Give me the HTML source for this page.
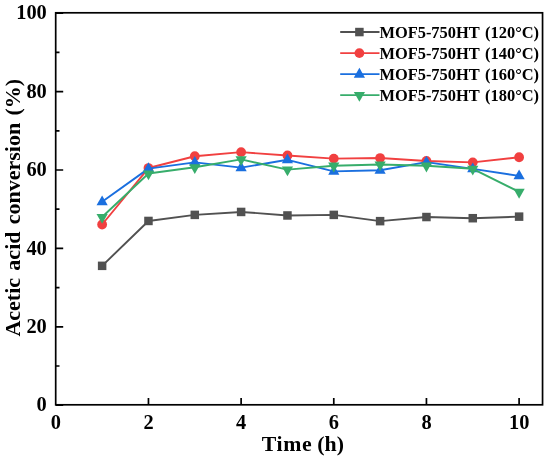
<!DOCTYPE html>
<html><head><meta charset="utf-8"><title>Acetic acid conversion</title>
<style>html,body{margin:0;padding:0;background:#fff}svg{display:block}text{font-family:"Liberation Serif","Times New Roman",serif;font-weight:bold;fill:#000}</style></head><body>
<svg width="550" height="461" viewBox="0 0 550 461">
<rect width="550" height="461" fill="#fff"/>
<polyline points="102.13,265.84 148.46,220.95 194.79,214.88 241.12,211.94 287.45,215.46 333.78,214.88 380.11,221.15 426.44,217.03 472.77,218.21 519.10,216.64" fill="none" stroke="#515151" stroke-width="1.9" stroke-linejoin="round"/>
<rect x="97.88" y="261.59" width="8.5" height="8.5" fill="#515151"/>
<rect x="144.21" y="216.70" width="8.5" height="8.5" fill="#515151"/>
<rect x="190.54" y="210.63" width="8.5" height="8.5" fill="#515151"/>
<rect x="236.87" y="207.69" width="8.5" height="8.5" fill="#515151"/>
<rect x="283.20" y="211.21" width="8.5" height="8.5" fill="#515151"/>
<rect x="329.53" y="210.63" width="8.5" height="8.5" fill="#515151"/>
<rect x="375.86" y="216.90" width="8.5" height="8.5" fill="#515151"/>
<rect x="422.19" y="212.78" width="8.5" height="8.5" fill="#515151"/>
<rect x="468.52" y="213.96" width="8.5" height="8.5" fill="#515151"/>
<rect x="514.85" y="212.39" width="8.5" height="8.5" fill="#515151"/>
<polyline points="102.13,224.48 148.46,168.03 194.79,156.27 241.12,152.16 287.45,155.49 333.78,158.62 380.11,158.04 426.44,160.98 472.77,162.35 519.10,157.25" fill="none" stroke="#F14040" stroke-width="1.9" stroke-linejoin="round"/>
<circle cx="102.13" cy="224.48" r="4.9" fill="#F14040"/>
<circle cx="148.46" cy="168.03" r="4.9" fill="#F14040"/>
<circle cx="194.79" cy="156.27" r="4.9" fill="#F14040"/>
<circle cx="241.12" cy="152.16" r="4.9" fill="#F14040"/>
<circle cx="287.45" cy="155.49" r="4.9" fill="#F14040"/>
<circle cx="333.78" cy="158.62" r="4.9" fill="#F14040"/>
<circle cx="380.11" cy="158.04" r="4.9" fill="#F14040"/>
<circle cx="426.44" cy="160.98" r="4.9" fill="#F14040"/>
<circle cx="472.77" cy="162.35" r="4.9" fill="#F14040"/>
<circle cx="519.10" cy="157.25" r="4.9" fill="#F14040"/>
<polyline points="102.13,201.74 148.46,168.62 194.79,162.35 241.12,167.64 287.45,159.80 333.78,171.36 380.11,170.19 426.44,162.15 472.77,168.82 519.10,175.87" fill="none" stroke="#1A6FDF" stroke-width="1.9" stroke-linejoin="round"/>
<polygon points="96.53,205.24 107.73,205.24 102.13,195.44" fill="#1A6FDF"/>
<polygon points="142.86,172.12 154.06,172.12 148.46,162.32" fill="#1A6FDF"/>
<polygon points="189.19,165.85 200.39,165.85 194.79,156.05" fill="#1A6FDF"/>
<polygon points="235.52,171.14 246.72,171.14 241.12,161.34" fill="#1A6FDF"/>
<polygon points="281.85,163.30 293.05,163.30 287.45,153.50" fill="#1A6FDF"/>
<polygon points="328.18,174.86 339.38,174.86 333.78,165.06" fill="#1A6FDF"/>
<polygon points="374.51,173.69 385.71,173.69 380.11,163.89" fill="#1A6FDF"/>
<polygon points="420.84,165.65 432.04,165.65 426.44,155.85" fill="#1A6FDF"/>
<polygon points="467.17,172.32 478.37,172.32 472.77,162.52" fill="#1A6FDF"/>
<polygon points="513.50,179.37 524.70,179.37 519.10,169.57" fill="#1A6FDF"/>
<polyline points="102.13,217.03 148.46,173.52 194.79,167.25 241.12,159.41 287.45,169.60 333.78,165.68 380.11,164.50 426.44,165.68 472.77,168.82 519.10,191.94" fill="none" stroke="#37AD6B" stroke-width="1.9" stroke-linejoin="round"/>
<polygon points="96.53,213.93 107.73,213.93 102.13,223.73" fill="#37AD6B"/>
<polygon points="142.86,170.42 154.06,170.42 148.46,180.22" fill="#37AD6B"/>
<polygon points="189.19,164.15 200.39,164.15 194.79,173.95" fill="#37AD6B"/>
<polygon points="235.52,156.31 246.72,156.31 241.12,166.11" fill="#37AD6B"/>
<polygon points="281.85,166.50 293.05,166.50 287.45,176.30" fill="#37AD6B"/>
<polygon points="328.18,162.58 339.38,162.58 333.78,172.38" fill="#37AD6B"/>
<polygon points="374.51,161.40 385.71,161.40 380.11,171.20" fill="#37AD6B"/>
<polygon points="420.84,162.58 432.04,162.58 426.44,172.38" fill="#37AD6B"/>
<polygon points="467.17,165.72 478.37,165.72 472.77,175.52" fill="#37AD6B"/>
<polygon points="513.50,188.84 524.70,188.84 519.10,198.64" fill="#37AD6B"/>
<rect x="55.7" y="12.8" width="486.84999999999997" height="392.0" fill="none" stroke="#000" stroke-width="1.7"/>
<path d="M55.7,405.20h7.5 M55.7,366.00h3.8 M55.7,326.80h7.5 M55.7,287.60h3.8 M55.7,248.40h7.5 M55.7,209.20h3.8 M55.7,170.00h7.5 M55.7,130.80h3.8 M55.7,91.60h7.5 M55.7,52.40h3.8 M55.7,13.20h7.5 M148.46,404.8v-6.8 M241.12,404.8v-6.8 M333.78,404.8v-6.8 M426.44,404.8v-6.8 M519.10,404.8v-6.8" stroke="#000" stroke-width="1.7" fill="none"/>
<text x="46.8" y="411.45" font-size="20.4" text-anchor="end">0</text>
<text x="46.8" y="333.05" font-size="20.4" text-anchor="end">20</text>
<text x="46.8" y="254.65" font-size="20.4" text-anchor="end">40</text>
<text x="46.8" y="176.25" font-size="20.4" text-anchor="end">60</text>
<text x="46.8" y="97.85" font-size="20.4" text-anchor="end">80</text>
<text x="46.8" y="19.45" font-size="20.4" text-anchor="end">100</text>
<text x="55.90" y="429.35" font-size="20.4" text-anchor="middle">0</text>
<text x="148.56" y="429.35" font-size="20.4" text-anchor="middle">2</text>
<text x="241.22" y="429.35" font-size="20.4" text-anchor="middle">4</text>
<text x="333.88" y="429.35" font-size="20.4" text-anchor="middle">6</text>
<text x="426.54" y="429.35" font-size="20.4" text-anchor="middle">8</text>
<text x="519.20" y="429.35" font-size="20.4" text-anchor="middle">10</text>
<text x="261.8" y="450.8" font-size="21.8"><tspan letter-spacing="0.63">Time</tspan><tspan x="311.8"> (h)</tspan></text>
<text transform="translate(20.3,207.7) rotate(-90)" font-size="22" word-spacing="1.8" text-anchor="middle">Acetic acid conversion (%)</text>
<line x1="340.2" y1="32.05" x2="379.5" y2="32.05" stroke="#515151" stroke-width="1.9"/>
<rect x="355.15" y="27.80" width="8.5" height="8.5" fill="#515151"/>
<text transform="translate(379.4,37.75) scale(1.027,1)" font-size="16" word-spacing="1.5">MOF5-750HT (120°C)</text>
<line x1="340.2" y1="53.1" x2="379.5" y2="53.1" stroke="#F14040" stroke-width="1.9"/>
<circle cx="359.40" cy="53.10" r="4.9" fill="#F14040"/>
<text transform="translate(379.4,58.80) scale(1.027,1)" font-size="16" word-spacing="1.5">MOF5-750HT (140°C)</text>
<line x1="340.2" y1="74.15" x2="379.5" y2="74.15" stroke="#1A6FDF" stroke-width="1.9"/>
<polygon points="353.80,77.65 365.00,77.65 359.40,67.85" fill="#1A6FDF"/>
<text transform="translate(379.4,79.85) scale(1.027,1)" font-size="16" word-spacing="1.5">MOF5-750HT (160°C)</text>
<line x1="340.2" y1="95.15" x2="379.5" y2="95.15" stroke="#37AD6B" stroke-width="1.9"/>
<polygon points="353.80,92.05 365.00,92.05 359.40,101.85" fill="#37AD6B"/>
<text transform="translate(379.4,100.85) scale(1.027,1)" font-size="16" word-spacing="1.5">MOF5-750HT (180°C)</text>
</svg></body></html>
